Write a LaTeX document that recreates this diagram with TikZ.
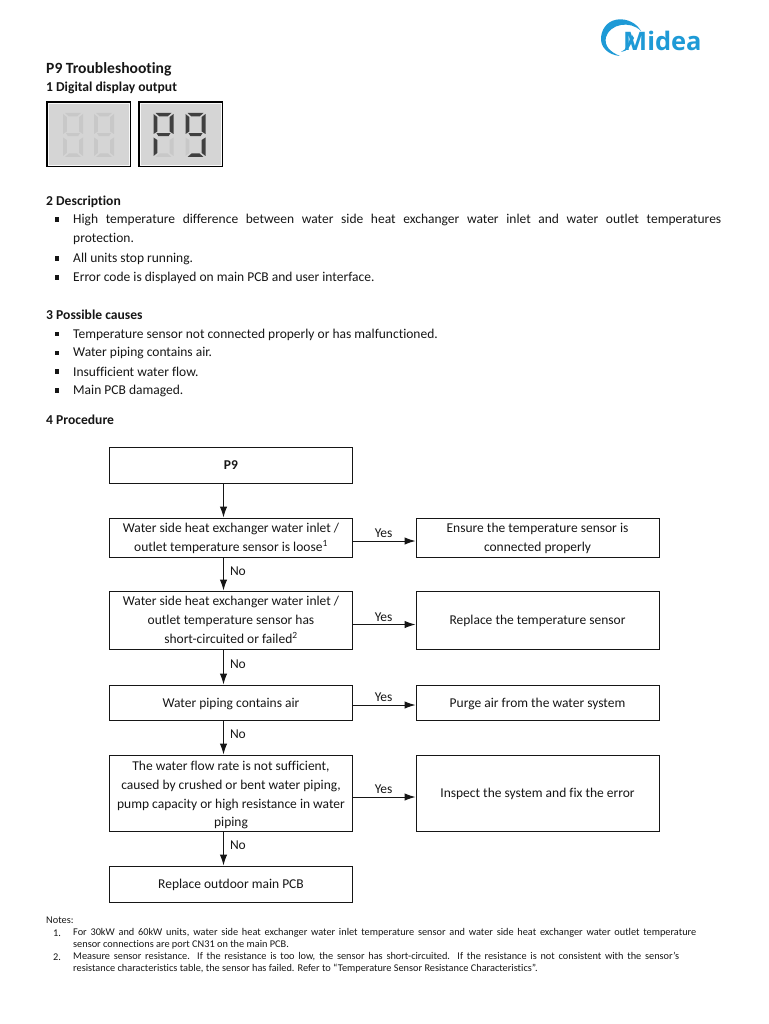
\documentclass[tikz,border=0pt]{standalone}
\usepackage{fontspec}
\setmainfont{Carlito}[Ligatures=CommonOff]
\newfontfamily\logofont{Open Sans}
\usetikzlibrary{arrows.meta}
\definecolor{midblue}{HTML}{1E9AD6}
\definecolor{lcdbg}{HTML}{D5D5D5}
\definecolor{lcdoff}{HTML}{C8C8C8}
\definecolor{lcdon}{HTML}{404040}
\definecolor{ink}{HTML}{161616}
\tikzset{
  box/.style={draw=ink, line width=1pt, minimum width=243pt, align=center, inner sep=0pt,
    font=\fontsize{13.5}{18.8}\selectfont, text=ink,
    execute at begin node={\rule{0pt}{12pt}}, execute at end node={\rule[-3pt]{0pt}{3pt}}},
  flow/.style={draw=ink, line width=1pt, -{Latex[length=11pt,width=7.5pt]}},
  head/.style={anchor=west, inner sep=0pt, font=\fontsize{13.6}{15}\selectfont\bfseries, text=ink},
  body/.style={anchor=west, inner sep=0pt, font=\fontsize{13.5}{19}\selectfont, text=ink},
  note/.style={anchor=west, inner sep=0pt, font=\fontsize{10.3}{12.2}\selectfont, text=ink},
  lbl/.style={inner sep=0pt, font=\fontsize{13.5}{15}\selectfont, text=ink},
  lcd/.style={draw=black, line width=1.6pt, fill=lcdbg},
}
\newcommand{\firstline}[1]{\rule{0pt}{#1}}
% one seven segment digit: left edge, list of segments, colour
\newcommand{\lcddigit}[3]{%
  \foreach \s in {#2} {%
    \ifcase\s
      \fill[#3] (#1+2,113) -- (#1+18,113) -- (#1+14,116.5) -- (#1+6,116.5) -- cycle;\or
      \fill[#3] (#1,114) -- (#1+3.8,117) -- (#1+3.8,131.5) -- (#1,134) -- cycle;\or
      \fill[#3] (#1+20,114) -- (#1+16.2,117) -- (#1+16.2,131.5) -- (#1+20,134) -- cycle;\or
      \fill[#3] (#1+3,133.2) -- (#1+17,133.2) -- (#1+15,136.2) -- (#1+5,136.2) -- cycle;\or
      \fill[#3] (#1,137.5) -- (#1+3.8,140) -- (#1+3.8,153) -- (#1,156) -- cycle;\or
      \fill[#3] (#1+20,137.5) -- (#1+16.2,140) -- (#1+16.2,153) -- (#1+20,156) -- cycle;\or
      \fill[#3] (#1+2,157) -- (#1+18,157) -- (#1+14,153.5) -- (#1+6,153.5) -- cycle;\fi
  }%
}
\begin{document}
\begin{tikzpicture}[x=1pt, y=-1pt]
\useasboundingbox (0,0) rectangle (768,1024);

% logo
\fill[midblue] (641,31) .. controls (632,15) and (604,14) .. (601,37) .. controls (600,47) and (608,55) .. (620,56)
  .. controls (610,52) and (604,46) .. (606,37) .. controls (610,24) and (630,20) .. (641,31) -- cycle;
\fill[midblue] (621,52) .. controls (627,50) and (628,42) .. (632,35) -- (634,38) .. controls (631,44) and (628,52) .. (621,52) -- cycle;
\node[anchor=base west, inner sep=0pt, text=midblue, font=\logofont\bfseries\fontsize{25.5}{26}\selectfont] (logo) at (623,51) {Midea};

% headings
\node[head, font=\fontsize{15.6}{17}\selectfont\bfseries] (title) at (46,69.2) {P9 Troubleshooting};
\node[head] (h1) at (46,87.5) {1 Digital display output};
\node[head] (h2) at (46,201.5) {2 Description};
\node[head] (h3) at (46,315) {3 Possible causes};
\node[head] (h4) at (46,420) {4 Procedure};

% display
\draw[lcd] (47,102) rectangle (130.5,166.5);
\draw[lcd] (139,102) rectangle (222.5,166.5);
\draw[white!85!lcdbg, line width=0.7pt] (48.5,103.5) rectangle (129,165);
\draw[white!85!lcdbg, line width=0.7pt] (140.5,103.5) rectangle (221,165);
\lcddigit{63}{0,1,2,3,4,5,6}{lcdoff}
\lcddigit{94}{0,1,2,3,4,5,6}{lcdoff}
\lcddigit{153.5}{5,6}{lcdoff}
\lcddigit{185.5}{4}{lcdoff}
\lcddigit{153.5}{0,1,2,3,4}{lcdon}
\lcddigit{185.5}{0,1,2,3,5,6}{lcdon}

% description and causes
\node[body, text width=648pt, align=justify] (d1) at (73,229.8) {High temperature difference between water side heat exchanger water inlet and water outlet temperatures\linebreak protection.};
\node[body] (d2) at (73,258.8) {All units stop running.};
\node[body] (d3) at (73,277.8) {Error code is displayed on main PCB and user interface.};
\node[body] (c1) at (73,334.5) {Temperature sensor not connected properly or has malfunctioned.};
\node[body] (c2) at (73,353.3) {Water piping contains air.};
\node[body] (c3) at (73,371.7) {Insufficient water flow.};
\node[body] (c4) at (73,390.7) {Main PCB damaged.};
\foreach \y in {220,258.5,277.5,334,353,371.5,390.5}
  \fill[ink] (54.5,\y-2.5) rectangle ++(4.5,4.5);

% flow chart
\node[box, minimum height=36pt, font=\fontsize{13.5}{18.8}\selectfont\bfseries] (start) at (231,465) {P9};
\node[box, minimum height=39pt] (loose) at (231,537.5) {\firstline{12.5pt}Water side heat exchanger water inlet /\\outlet temperature sensor is loose\textsuperscript{1}};
\node[box, minimum height=58pt] (failed) at (231,620) {\firstline{12.5pt}Water side heat exchanger water inlet /\\outlet temperature sensor has\\short-circuited or failed\textsuperscript{2}};
\node[box, minimum height=35pt] (air) at (231,702.5) {Water piping contains air};
\node[box, minimum height=76pt] (rate) at (231,793) {\firstline{14.5pt}The water flow rate is not sufficient,\\caused by crushed or bent water piping,\\pump capacity or high resistance in water\\piping};
\node[box, minimum height=36pt] (pcb) at (231,884) {Replace outdoor main PCB};
\node[box, minimum height=39pt] (ensure) at (537.5,537.5) {\firstline{12.5pt}Ensure the temperature sensor is\\connected properly};
\node[box, minimum height=58pt] (replace) at (537.5,620) {Replace the temperature sensor};
\node[box, minimum height=35pt] (purge) at (537.5,702.5) {Purge air from the water system};
\node[box, minimum height=76pt] (inspect) at (537.5,793) {Inspect the system and fix the error};

\coordinate (axis) at (223.5,0);
\draw[flow] (start.south -| axis) -- (loose.north -| axis);
\draw[flow] (loose.south -| axis) -- node[lbl, right=6pt, pos=0.4, yshift=-1pt] {No} (failed.north -| axis);
\draw[flow] (failed.south -| axis) -- node[lbl, right=6pt, pos=0.4, yshift=-1pt] {No} (air.north -| axis);
\draw[flow] (air.south -| axis) -- node[lbl, right=6pt, pos=0.4] {No} (rate.north -| axis);
\draw[flow] (rate.south -| axis) -- node[lbl, right=6pt, pos=0.4] {No} (pcb.north -| axis);
\draw[flow] ([yshift=-3.5pt]loose.east) -- node[lbl, above=2.5pt, pos=0.49] {Yes} ([yshift=-3.5pt]ensure.west);
\draw[flow] ([yshift=-4.5pt]failed.east) -- node[lbl, above=2.5pt, pos=0.49] {Yes} ([yshift=-4.5pt]replace.west);
\draw[flow] ([yshift=-2.5pt]air.east) -- node[lbl, above=2.5pt, pos=0.49] {Yes} ([yshift=-2.5pt]purge.west);
\draw[flow] ([yshift=-4pt]rate.east) -- node[lbl, above=2.5pt, pos=0.49] {Yes} ([yshift=-4pt]inspect.west);

% notes
\node[note] (notes) at (46,920) {Notes:};
\node[note] (n1) at (53,933) {1.};
\node[note, text width=623pt, align=justify] (n1t) at (73,939) {For 30kW and 60kW units, water side heat exchanger water inlet temperature sensor and water side heat exchanger water outlet temperature\linebreak sensor connections are port CN31 on the main PCB.};
\node[note] (n2) at (53,957) {2.};
\node[note, text width=606pt, align=justify] (n2t) at (73,963) {Measure sensor resistance. If the resistance is too low, the sensor has short-circuited. If the resistance is not consistent with the sensor's\linebreak resistance characteristics table, the sensor has failed. Refer to ``Temperature Sensor Resistance Characteristics''.};
\end{tikzpicture}
\end{document}
